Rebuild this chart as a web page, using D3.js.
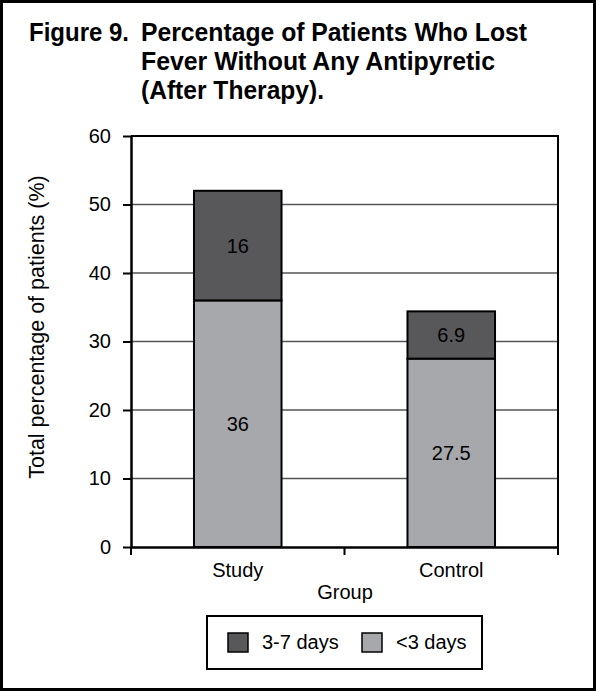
<!DOCTYPE html>
<html><head><meta charset="utf-8">
<script src="https://cdn.jsdelivr.net/npm/d3@7"></script>
<style>body{margin:0;background:#fff}svg{display:block}text{font-family:"Liberation Sans",Arial,sans-serif}</style>
</head><body>
<svg id="c" width="596" height="691"></svg>
<script>
const categories = ["Study", "Control"];
const seriesNames = ["<3 days", "3-7 days"];
const under3 = [36, 27.5];
const days3to7 = [16, 6.9];
const yTicks = [0, 10, 20, 30, 40, 50, 60];
const titleLines = ["Percentage of Patients Who Lost", "Fever Without Any Antipyretic", "(After Therapy)."];
const colors = {"<3 days": "#a7a8ab", "3-7 days": "#58585a"};

const svg = d3.select("#c");
const L = 131, R = 558, T = 136, B = 547;
const y = d3.scaleLinear().domain([0, 60]).range([B, T]);
const x = d3.scaleBand().domain(categories).range([L, R]);

// outer frame
svg.append("rect").attr("x", 1.5).attr("y", 1.5).attr("width", 593).attr("height", 688)
  .attr("fill", "none").attr("stroke", "#000").attr("stroke-width", 3);

// title
const tg = svg.append("g").attr("font-weight", "bold").attr("font-size", 26).attr("fill", "#000");
tg.append("text").attr("x", 29).attr("y", 41).attr("textLength", 100).attr("lengthAdjust", "spacingAndGlyphs").text("Figure 9.");
const tl = [386, 354, 183];
titleLines.forEach((t, i) => {
  tg.append("text").attr("x", 141).attr("y", 41 + i * 29).attr("textLength", tl[i]).attr("lengthAdjust", "spacingAndGlyphs").text(t);
});

// gridlines
svg.append("g").selectAll("line").data(yTicks.filter(d => d > 0 && d < 60)).join("line")
  .attr("x1", L).attr("x2", R).attr("y1", d => y(d)).attr("y2", d => y(d))
  .attr("stroke", "#555").attr("stroke-width", 1.4);

// stacked bars
const rows = categories.map((c, i) => ({cat: c, "<3 days": under3[i], "3-7 days": days3to7[i]}));
const stack = d3.stack().keys(seriesNames)(rows);
const bw = x.bandwidth() * 0.41;
stack.forEach(s => {
  svg.append("g").selectAll("rect").data(s).join("rect")
    .attr("x", d => x(d.data.cat) + x.bandwidth() / 2 - bw / 2)
    .attr("y", d => y(d[1])).attr("width", bw).attr("height", d => y(d[0]) - y(d[1]))
    .attr("fill", colors[s.key]).attr("stroke", "#000").attr("stroke-width", 2);
  svg.append("g").selectAll("text").data(s).join("text")
    .attr("x", d => x(d.data.cat) + x.bandwidth() / 2)
    .attr("y", d => (y(d[0]) + y(d[1])) / 2)
    .attr("dy", "0.36em").attr("text-anchor", "middle").attr("font-size", 20).attr("fill", "#000")
    .text(d => d.data[s.key]);
});

// plot frame top/right
svg.append("path").attr("d", `M${L},${T}H${R}V${B}`).attr("fill", "none").attr("stroke", "#000").attr("stroke-width", 2);

// y axis
const ya = svg.append("g").attr("transform", `translate(${L},0)`)
  .call(d3.axisLeft(y).tickValues(yTicks).tickSize(8).tickPadding(12).tickSizeOuter(0));
ya.select(".domain").attr("stroke-width", 2.5);
ya.selectAll(".tick line").attr("stroke-width", 2);
ya.selectAll("text").attr("font-size", 20).attr("fill", "#000");

// x axis
const xa = svg.append("g").attr("transform", `translate(0,${B})`)
  .call(d3.axisBottom(x).tickSize(0).tickPadding(16).tickSizeOuter(0));
xa.select(".domain").attr("stroke-width", 2.5);
xa.selectAll("text").attr("font-size", 20).attr("fill", "#000");
const bounds = [L, ...categories.slice(1).map(c => x(c)), R];
xa.selectAll(".bt").data(bounds).join("line").attr("class", "bt")
  .attr("x1", d => d).attr("x2", d => d).attr("y1", 0).attr("y2", 8).attr("stroke", "#000").attr("stroke-width", 2);

// axis titles
svg.append("text").attr("x", 345).attr("y", 599).attr("text-anchor", "middle").attr("font-size", 20).text("Group");
svg.append("text").attr("transform", "translate(44,327) rotate(-90)").attr("text-anchor", "middle").attr("font-size", 21.5)
  .text("Total percentage of patients (%)");

// legend
const lg = svg.append("g");
lg.append("rect").attr("x", 207).attr("y", 616).attr("width", 275).attr("height", 53).attr("fill", "#fff").attr("stroke", "#000").attr("stroke-width", 2);
const legendItems = ["3-7 days", "<3 days"];
const lx = [228, 362];
legendItems.forEach((k, i) => {
  lg.append("rect").attr("x", lx[i]).attr("y", 633).attr("width", 20).attr("height", 19).attr("fill", colors[k]).attr("stroke", "#000").attr("stroke-width", 1.5);
  lg.append("text").attr("x", lx[i] + 34).attr("y", 649).attr("font-size", 20).text(k);
});
</script>
</body></html>
